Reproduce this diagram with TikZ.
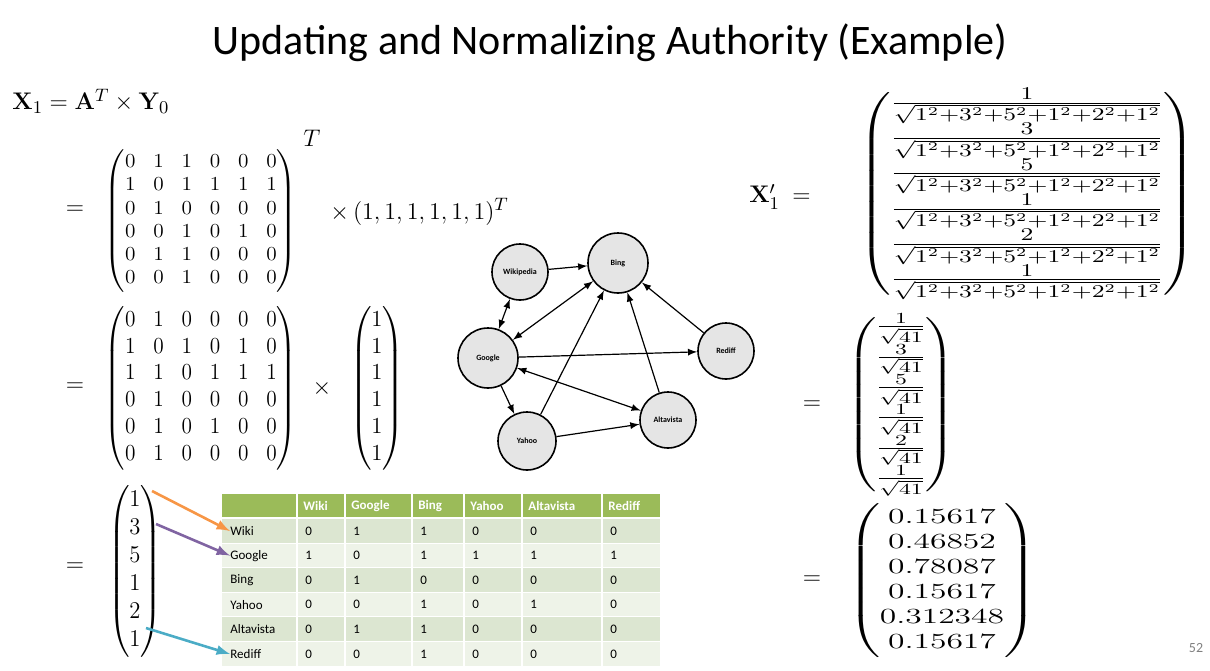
\documentclass[tikz,border=0pt]{standalone}
\usepackage{amsmath, amssymb}
\usepackage{graphicx}
\usepackage[no-math]{fontspec}
\setmainfont{Carlito}
\usetikzlibrary{positioning}
\definecolor{hdgreen}{HTML}{9BBB59}
\definecolor{rowdark}{HTML}{DCE6D1}
\definecolor{rowlight}{HTML}{EEF3E8}
\definecolor{arrorange}{HTML}{F79646}
\definecolor{arrpurple}{HTML}{8064A2}
\definecolor{arrcyan}{HTML}{4BACC6}
\tikzset{
  site/.style={circle, draw, thick, fill=gray!20, minimum size=28pt, inner sep=0pt, font=\bfseries\fontsize{4}{5}\selectfont},
  link/.style={-latex, semithick},
  both/.style={latex-latex, semithick},
  big/.style={inner sep=0pt, font=\fontsize{13}{14}\selectfont},
  cell/.style={font=\fontsize{6.5}{7}\selectfont, anchor=west, inner sep=0pt},
  hdr/.style={cell, text=white, font=\bfseries\fontsize{6.5}{7}\selectfont},
  pointer/.style={-latex, line width=1.3pt}
}
\newcommand{\rt}{\sqrt{1^2{+}3^2{+}5^2{+}1^2{+}2^2{+}1^2}}
\newcommand{\fitbox}[3]{\resizebox*{#1}{#2}{$#3$}}
\begin{document}
\begin{tikzpicture}[x=0.5pt, y=-0.5pt]
        \useasboundingbox (0,0) rectangle (1210,670);
        % Title
        \node[font=\fontsize{21}{25}\selectfont] (title) at (610,43) {Updating and Normalizing Authority (Example)};

        % Left column
        \node[big, anchor=west] (eq0) at (12,101) {$\mathbf{X}_1=\mathbf{A}^T\times\mathbf{Y}_0$};
        \node[big] (e1) at (75,210) {$=$};
        \node[big] (m1) at (201,221) {\fitbox{96pt}{71pt}{\begin{pmatrix}0&1&1&0&0&0\\1&0&1&1&1&1\\0&1&0&0&0&0\\0&0&1&0&1&0\\0&1&1&0&0&0\\0&0&1&0&0&0\end{pmatrix}}};
        \node[big] (t1) at (312,138) {$T$};
        \node[big, anchor=west] (ones) at (330,212) {$\times\,(1,1,1,1,1,1)^T$};
        \node[big] (e2) at (75,387) {$=$};
        \node[big] (m2) at (201,388) {\fitbox{96pt}{82pt}{\begin{pmatrix}0&1&0&0&0&0\\1&0&1&0&1&0\\1&1&0&1&1&1\\0&1&0&0&0&0\\0&1&0&1&0&0\\0&1&0&0&0&0\end{pmatrix}}};
        \node[big] (x2) at (322,388) {$\times$};
        \node[big] (v2) at (377,388) {\fitbox{27pt}{82pt}{\begin{pmatrix}1\\1\\1\\1\\1\\1\end{pmatrix}}};
        \node[big] (e3) at (75,567) {$=$};
        \node[big] (v3) at (135,571) {\fitbox{27pt}{86pt}{\begin{pmatrix}1\\3\\5\\1\\2\\1\end{pmatrix}}};

        % Right column
        \node[big] (xp) at (780,197) {$\mathbf{X}'_1\ =$};
        \node[big] (m4) at (1027,194) {\fitbox{168pt}{106pt}{\left(\begin{array}{@{}c@{}}\frac{1}{\rt}\\\frac{3}{\rt}\\\frac{5}{\rt}\\\frac{1}{\rt}\\\frac{2}{\rt}\\\frac{1}{\rt}\end{array}\right)}};
        \node[big] (e4) at (812,405) {$=$};
        \node[big] (m5) at (901,405) {\fitbox{54pt}{91pt}{\left(\begin{array}{@{}c@{}}\frac{1}{\sqrt{41}}\\\frac{3}{\sqrt{41}}\\\frac{5}{\sqrt{41}}\\\frac{1}{\sqrt{41}}\\\frac{2}{\sqrt{41}}\\\frac{1}{\sqrt{41}}\end{array}\right)}};
        \node[big] (e5) at (812,580) {$=$};
        \node[big] (m6) at (942,581) {\fitbox{94pt}{77pt}{\begin{pmatrix}0.15617\\0.46852\\0.78087\\0.15617\\0.312348\\0.15617\end{pmatrix}}};

        % Graph
        \node[site] (wiki) at (520,272) {Wikipedia};
        \node[site, minimum size=30pt] (bing) at (618,263) {Bing};
        \node[site, minimum size=30pt] (google) at (488,358) {Google};
        \node[site] (rediff) at (726,351) {Rediff};
        \node[site, minimum size=29pt] (yahoo) at (527,441) {Yahoo};
        \node[site] (alta) at (668,420) {Altavista};
        \draw[link] (wiki) -- (bing);
        \draw[both] (wiki) -- (google);
        \draw[both] (google) -- (bing);
        \draw[link] (google) -- (rediff);
        \draw[both] (google) -- (alta);
        \draw[link] (google) -- (yahoo);
        \draw[link] (yahoo) -- (bing);
        \draw[link] (yahoo) -- (alta);
        \draw[link] (alta) -- (bing);
        \draw[link] (rediff) -- (bing);

        % Table
        \fill[hdgreen] (222,494) rectangle (660,517);
        \foreach \r in {0,...,5} {
          \pgfmathsetmacro{\top}{519+24.6*\r}
          \pgfmathparse{mod(\r,2)==0 ? "rowdark" : "rowlight"}
          \fill[\pgfmathresult] (222,\top) rectangle (660,\top+23.6);
        }
        \foreach \c in {297,345,412,464,522,602} \draw[white, line width=1pt] (\c,494) -- (\c,666);
        \foreach \h [count=\i] in {Wiki,Google,Bing,Yahoo,Altavista,Rediff} {
          \pgfmathsetmacro{\cx}{{297,345,412,464,522,602}[\i-1]+6}
          \node[hdr] (h\i) at (\cx,506) {\h};
        }
        \foreach \name/\vals [count=\r] in {Wiki/{0,1,1,0,0,0},Google/{1,0,1,1,1,1},Bing/{0,1,0,0,0,0},Yahoo/{0,0,1,0,1,0},Altavista/{0,1,1,0,0,0},Rediff/{0,0,1,0,0,0}} {
          \pgfmathsetmacro{\cy}{531+24.6*(\r-1)}
          \node[cell] (row\r) at (230,\cy) {\name};
          \foreach \v [count=\k] in \vals {
            \pgfmathsetmacro{\cx}{{297,345,412,464,522,602}[\k-1]+8}
            \node[cell] at (\cx,\cy) {\v};
          }
        }

        % Pointers
        \coordinate (p1) at (152,491);
        \coordinate (p2) at (156,524);
        \coordinate (p3) at (146,628);
        \draw[pointer, arrorange] (p1) -- (row1.west);
        \draw[pointer, arrpurple] (p2) -- (row2.west);
        \draw[pointer, arrcyan] (p3) -- (row6.west);

        \node[text=gray, font=\fontsize{7}{8}\selectfont] (page) at (1196,648) {52};
\end{tikzpicture}
\end{document}
